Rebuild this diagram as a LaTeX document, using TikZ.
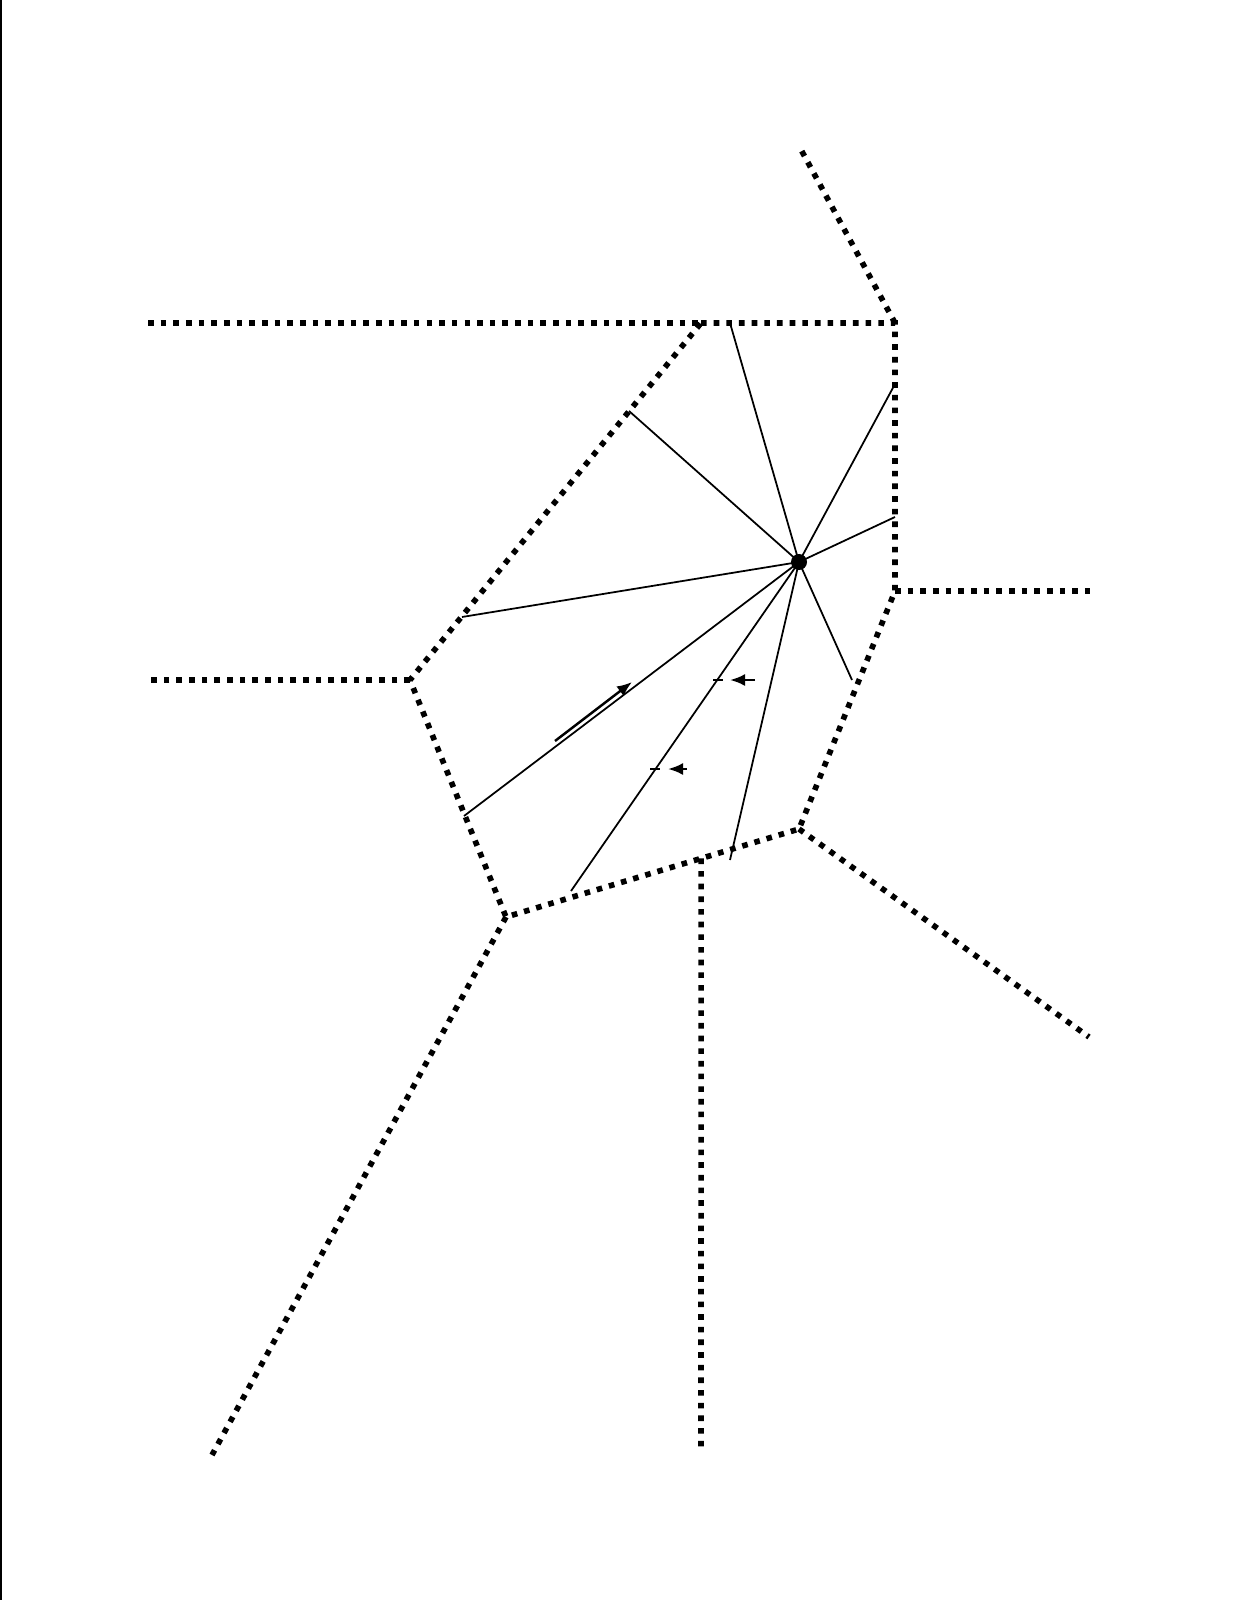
\documentclass[tikz,border=0pt]{standalone}
\usetikzlibrary{arrows.meta,calc,positioning}

\begin{document}
\begin{tikzpicture}[
    x=0.01cm,y=-0.01cm,
    border/.style={line width=1.6pt,dash pattern=on 1.6pt off 2pt,line cap=butt},
    ray/.style={line width=0.5pt},
    site/.style={circle,fill=black,inner sep=0pt,minimum size=1.6mm},
    tick/.style={line width=0.6pt},
    push/.style={-{Latex[length=1.5mm,width=1.2mm]},line width=0.7pt}
  ]
    \useasboundingbox (0,0) rectangle (1236,1600);
    \draw[line width=0.5pt] (1,0) -- (1,1600);

    % Cell vertices
    \coordinate (A) at (701,323);
    \coordinate (B) at (895,323);
    \coordinate (C) at (895,591);
    \coordinate (D) at (799,829);
    \coordinate (E) at (506,917);
    \coordinate (F) at (410,680);
    \coordinate (G) at ($(E)!0.666!(D)$);

    % Outer ends
    \coordinate (tl) at (148,323);
    \coordinate (tp) at (799,146);
    \coordinate (rt) at (1090,591);
    \coordinate (br) at (1089,1037);
    \coordinate (bl) at (212,1455);
    \coordinate (bm) at (701,1453);
    \coordinate (lf) at (148,680);

    % Cell and neighbouring edges
    \draw[border] (A) -- (B) -- (C) -- (D) -- (E) -- (F) -- cycle;
    \draw[border] (tl) -- (A);
    \draw[border] (B) -- (tp);
    \draw[border] (C) -- (rt);
    \draw[border] (D) -- (br);
    \draw[border] (E) -- (bl);
    \draw[border] (G) -- (bm);
    \draw[border] (F) -- (lf);

    % Site and rays
    \node[site] (P) at (799,562) {};
    \coordinate (r1) at (730,323);
    \coordinate (r2) at (629,411);
    \coordinate (r3) at (895,384);
    \coordinate (r4) at (895,517);
    \coordinate (r5) at (462,617);
    \coordinate (r6) at (464,816);
    \coordinate (r7) at (571,891);
    \coordinate (r8) at (730,860);
    \coordinate (r9) at (852,680);
    \foreach \r in {r1,r2,r3,r4,r5,r6,r7,r8,r9}
      \draw[ray] (P.center) -- (\r);

    % Arrows
    \coordinate (s1) at (555,741);
    \coordinate (s2) at (632,682);
    \draw[push] (s1) -- (s2);

    \coordinate (k1) at (713,680);
    \coordinate (k2) at (723,680);
    \coordinate (k3) at (650,769);
    \coordinate (k4) at (660,769);
    \draw[tick] (k1) -- (k2);
    \draw[tick] (k3) -- (k4);

    \coordinate (a1) at (755,680);
    \coordinate (a2) at (730,680);
    \coordinate (a3) at (687,769);
    \coordinate (a4) at (668,769);
    \draw[push] (a1) -- (a2);
    \draw[push] (a3) -- (a4);
\end{tikzpicture}
\end{document}
